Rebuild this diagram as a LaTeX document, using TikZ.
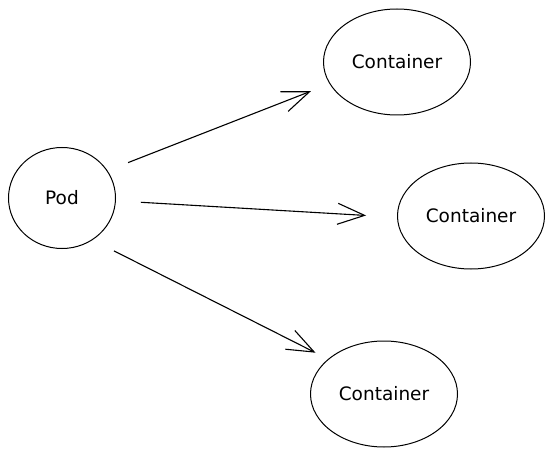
\documentclass[tikz,border=0pt]{standalone}
\usepackage{fontspec}
\setmainfont{DejaVu Sans}
\usetikzlibrary{shapes.geometric,arrows.meta}
\tikzset{
    blob/.style={draw,ellipse,line width=1pt,inner sep=0pt,font=\fontsize{18.5}{22}\selectfont},
    arr/.style={line width=1.1pt,-{Straight Barb[length=27pt,width=21pt,line width=1.1pt]}}
}
\begin{document}
\begin{tikzpicture}[x=1pt,y=-1pt]
            \useasboundingbox (0,0) rectangle (554,457);
            \node [blob,minimum width=107pt,minimum height=101pt] (pod) at(62,198) {Pod};
            \node [blob,minimum width=147pt,minimum height=106pt] (top) at(397,62) {Container};
            \node [blob,minimum width=147pt,minimum height=106pt] (mid) at(471,216) {Container};
            \node [blob,minimum width=147pt,minimum height=106pt] (bot) at(384,394) {Container};
            \draw [arr,shorten <=22pt,shorten >=20pt] (pod.31)--(top.198);
            \draw [arr,shorten <=25pt,shorten >=31pt] (pod.-3)--(mid.181);
            \draw [arr,shorten <=24pt,shorten >=14pt] (pod.-54)--(bot.148);
        \end{tikzpicture}
\end{document}
